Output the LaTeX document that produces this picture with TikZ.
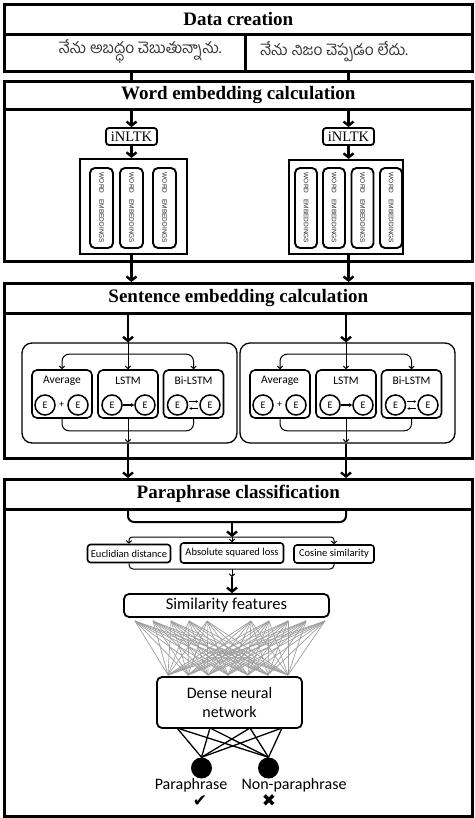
\documentclass[tikz,border=0pt]{standalone}
\usepackage{fontspec}
\setmainfont{Liberation Serif}
\newfontfamily\telfont[Script=Telugu]{Hind Guntur}
\newfontfamily\calfont{Carlito}
\newfontfamily\arfont{Liberation Sans}
\newfontfamily\djfont{DejaVu Sans}
\usetikzlibrary{arrows.meta,calc}
\begin{document}
\begin{tikzpicture}[x=1pt,y=-1pt,
  sec/.style={draw, line width=2.6pt, inner sep=0pt, anchor=north west},
  hdr/.style={sec, font=\fontsize{19}{22}\selectfont\bfseries},
  teltext/.style={font=\fontsize{15.5}{18}\selectfont\telfont, text=black!80, inner sep=0pt},
  inl/.style={draw, line width=1.8pt, rounded corners=3pt, minimum width=51pt, minimum height=17pt, inner sep=0pt, font=\fontsize{14.5}{16}\selectfont},
  embbox/.style={draw, line width=2.2pt, inner sep=0pt},
  pill/.style={draw, line width=1.9pt, rounded corners=5pt, minimum height=80pt, inner sep=0pt},
  pilltext/.style={rotate=-90, font=\fontsize{6.5}{7}\selectfont\arfont, text=black!85, inner sep=0pt},
  bigarr/.style={line width=2.4pt, -{Straight Barb[length=4pt,width=10pt]}},
  smarr/.style={line width=1pt, -{Straight Barb[length=2.5pt,width=5.5pt]}},
  thinline/.style={line width=1pt},
  panel/.style={draw, line width=1.3pt, rounded corners=10pt, minimum width=215pt, minimum height=100pt, inner sep=0pt},
  subbox/.style={draw, line width=1.6pt, rounded corners=5pt, minimum width=60pt, minimum height=48pt, inner sep=0pt},
  sublab/.style={font=\fontsize{11.5}{13}\selectfont\calfont, inner sep=0pt},
  ecirc/.style={draw, circle, line width=1.5pt, minimum size=20pt, inner sep=0pt, font=\fontsize{10}{11}\selectfont\calfont},
  simbox/.style={draw, line width=1.6pt, rounded corners=3pt, inner sep=0pt, font=\fontsize{10.5}{12}\selectfont\calfont},
  bigbox/.style={draw, line width=1.8pt, rounded corners=5pt, inner sep=0pt, font=\fontsize{16.5}{19}\selectfont\calfont, align=center},
  nnline/.style={line width=0.7pt, black!38},
  outline/.style={line width=1.3pt},
  outcirc/.style={circle, fill=black, minimum size=21pt, inner sep=0pt},
  outlab/.style={font=\fontsize{16}{18}\selectfont\calfont, inner sep=0pt},
  marksym/.style={font=\fontsize{17}{19}\selectfont\djfont, inner sep=0pt}
]
\useasboundingbox (0,0) rectangle (474,818);

% ---------- Data creation ----------
\node[hdr, minimum width=468pt, minimum height=30pt] (dch) at (3,3) {Data creation};
\node[sec, minimum width=241pt, minimum height=37pt] (dcl) at (3,33) {};
\node[sec, minimum width=227pt, minimum height=37pt] (dcr) at (244,33) {};
\node[teltext] (tel1) at (140,51.5) {నేను అబద్ధం చెబుతున్నాను.};
\node[teltext] (tel2) at (334,51.5) {నేను నిజం చెప్పడం లేదు.};

% ---------- Word embedding ----------
\node[hdr, minimum width=468pt, minimum height=28pt] (weh) at (3,80) {Word embedding calculation};
\node[sec, minimum width=468pt, minimum height=152pt] (web) at (3,108) {};
\node[inl] (inl1) at (131.5,136.5) {iNLTK};
\node[inl] (inl2) at (348.5,136.5) {iNLTK};
\node[embbox, minimum width=107pt, minimum height=95pt] (emb1) at (133.5,206.5) {};
\node[embbox, minimum width=114pt, minimum height=94pt] (emb2) at (346,207) {};
\foreach \n/\px in {1/101.5,2/131.5,3/164.5}{
  \node[pill, minimum width=23pt] (pl\n) at (\px,208) {};
  \node[pilltext] at (pl\n) {WORD\hspace{6pt}EMBEDDINGS};
}
\foreach \n/\px in {1/306,2/334,3/362.5,4/391}{
  \node[pill, minimum width=22pt] (pr\n) at (\px,208) {};
  \node[pilltext] at (pr\n) {WORD\hspace{6pt}EMBEDDINGS};
}

% ---------- Sentence embedding ----------
\node[hdr, minimum width=468pt, minimum height=30pt] (seh) at (3,282) {Sentence embedding calculation};
\node[sec, minimum width=468pt, minimum height=145pt] (seb) at (3,312) {};
\node[panel] (panL) at (129.5,393) {};
\node[panel] (panR) at (347.5,393) {};
\foreach \s/\dx in {L/0,R/218}{
  \node[subbox] (av\s) at ({62+\dx},394) {};
  \node[subbox] (ls\s) at ({128+\dx},394) {};
  \node[subbox] (bi\s) at ({193.5+\dx},394) {};
  \node[sublab] (avt\s) at ({62+\dx},381) {Average};
  \node[sublab] (lst\s) at ({128+\dx},381) {LSTM};
  \node[sublab] (bit\s) at ({193.5+\dx},381) {Bi-LSTM};
  \node[ecirc] (ea1\s) at ({45+\dx},405) {E};
  \node[ecirc] (ea2\s) at ({78+\dx},405) {E};
  \node[font=\fontsize{10}{11}\selectfont\calfont, inner sep=0pt] (plus\s) at ({61.5+\dx},405) {+};
  \node[ecirc] (el1\s) at ({112+\dx},405) {E};
  \node[ecirc] (el2\s) at ({145+\dx},405) {E};
  \draw[line width=1.3pt, -{Stealth[length=3.5pt,width=4pt]}] (el1\s) -- (el2\s);
  \node[ecirc] (eb1\s) at ({177.5+\dx},405) {E};
  \node[ecirc] (eb2\s) at ({210+\dx},405) {E};
  \draw[line width=0.7pt, -{Stealth[length=2.5pt,width=2.5pt]}] ($(eb1\s.east)+(1,-3.5)$) -- ($(eb2\s.west)+(-1,-3.5)$);
  \draw[line width=0.7pt, -{Stealth[length=2.5pt,width=2.5pt]}] ($(eb2\s.west)+(-1,3.5)$) -- ($(eb1\s.east)+(1,3.5)$);
  % top split
  \coordinate (top\s) at ($(ls\s.north)+(0,-15)$);
  \draw[bigarr] (seh.south -| ls\s) -- (pan\s.north -| ls\s);
  \draw[smarr] (pan\s.north -| ls\s) -- (ls\s.north);
  \draw[smarr, rounded corners=7pt] (top\s) -| (av\s.north);
  \draw[smarr, rounded corners=7pt] (top\s) -| (bi\s.north);
  % bottom merge
  \coordinate (bot\s) at ($(ls\s.south)+(0,12)$);
  \draw[thinline, rounded corners=7pt] (av\s.south) |- (bot\s) -| (bi\s.south);
  \draw[smarr] (ls\s.south) -- ($(pan\s.south -| ls\s)+(0,-1)$);
}

% ---------- Paraphrase classification ----------
\node[hdr, minimum width=468pt, minimum height=30pt] (pch) at (3,478) {Paraphrase classification};
\node[sec, minimum width=468pt, minimum height=307pt] (pcb) at (3,508) {};
\coordinate (pm) at (232,522);
\coordinate (sp) at (232,537);
\node[simbox, minimum width=83pt, minimum height=18pt] (euc) at (129,553.5) {Euclidian distance};
\node[simbox, minimum width=103pt, minimum height=20pt] (abs) at (232,553) {Absolute squared loss};
\node[simbox, minimum width=80pt, minimum height=18pt] (cos) at (334,554) {Cosine similarity};
\coordinate (mg) at (232,569);
\coordinate (mg2) at (232,577);
\node[bigbox, minimum width=205pt, minimum height=23pt] (sim) at (226.5,605.5) {Similarity features};
\node[bigbox, minimum width=145pt, minimum height=51pt, font=\fontsize{16}{19}\selectfont\calfont] (dense) at (229.5,702.5) {Dense neural\\network};
\node[outcirc] (o1) at (201.5,768) {};
\node[outcirc] (o2) at (268.5,768) {};
\node[outlab] (lab1) at (191,785) {Paraphrase};
\node[outlab] (lab2) at (294,785) {Non-paraphrase};
\node[marksym] (chk) at (200,801) {✔};
\node[marksym] (crs) at (269,801) {✖};

% NN coordinates
\foreach \i/\xx in {1/135,2/153,3/171,4/189,5/207,6/251,7/269,8/288,9/306,10/325}{
  \coordinate (t\i) at (\xx,621);
}
\foreach \j/\xx in {1/168,2/188,3/208,4/228,5/248,6/268,7/288}{
  \coordinate (b\j) at (\xx,675);
}
\foreach \i in {1,...,10}{\foreach \j in {1,...,7}{\draw[nnline] (t\i) -- (b\j);}}
\foreach \k/\xx in {1/177,2/210,3/250,4/282}{
  \coordinate (d\k) at (\xx,728);
  \draw[outline] (d\k) -- (o1.north);
  \draw[outline] (d\k) -- (o2.north);
}

% ---------- connectors between sections ----------
\draw[line width=2.2pt] (dcl.south -| inl1) -- (weh.north -| inl1);
\draw[line width=2.2pt] (dcr.south -| inl2) -- (weh.north -| inl2);
\draw[bigarr] (weh.south -| inl1) -- (inl1.north);
\draw[bigarr] (weh.south -| inl2) -- (inl2.north);
\draw[bigarr] (inl1.south) -- (emb1.north -| inl1);
\draw[bigarr] (inl2.south) -- (emb2.north -| inl2);
\draw[bigarr] (emb1.south -| inl1) -- (seh.north -| inl1);
\draw[bigarr] (emb2.south -| inl2) -- (seh.north -| inl2);
\draw[bigarr] (panL.south -| lsL) -- (pch.north -| lsL);
\draw[bigarr] (panR.south -| lsR) -- (pch.north -| lsR);
\draw[line width=2pt, rounded corners=6pt] (pch.south -| lsL) |- (pm) -| (pch.south -| lsR);
\draw[bigarr] (pm) -- (sp);
\draw[smarr, rounded corners=3pt] (sp) -| (euc.north);
\draw[smarr] (sp) -- (abs.north);
\draw[smarr, rounded corners=3pt] (sp) -| (cos.north);
\draw[thinline, rounded corners=4pt] (euc.south) |- (mg) -| (cos.south);
\draw[smarr] (mg) -- (mg2);
\draw[bigarr] (mg2) -- (sim.north -| mg2);
\end{tikzpicture}
\end{document}
